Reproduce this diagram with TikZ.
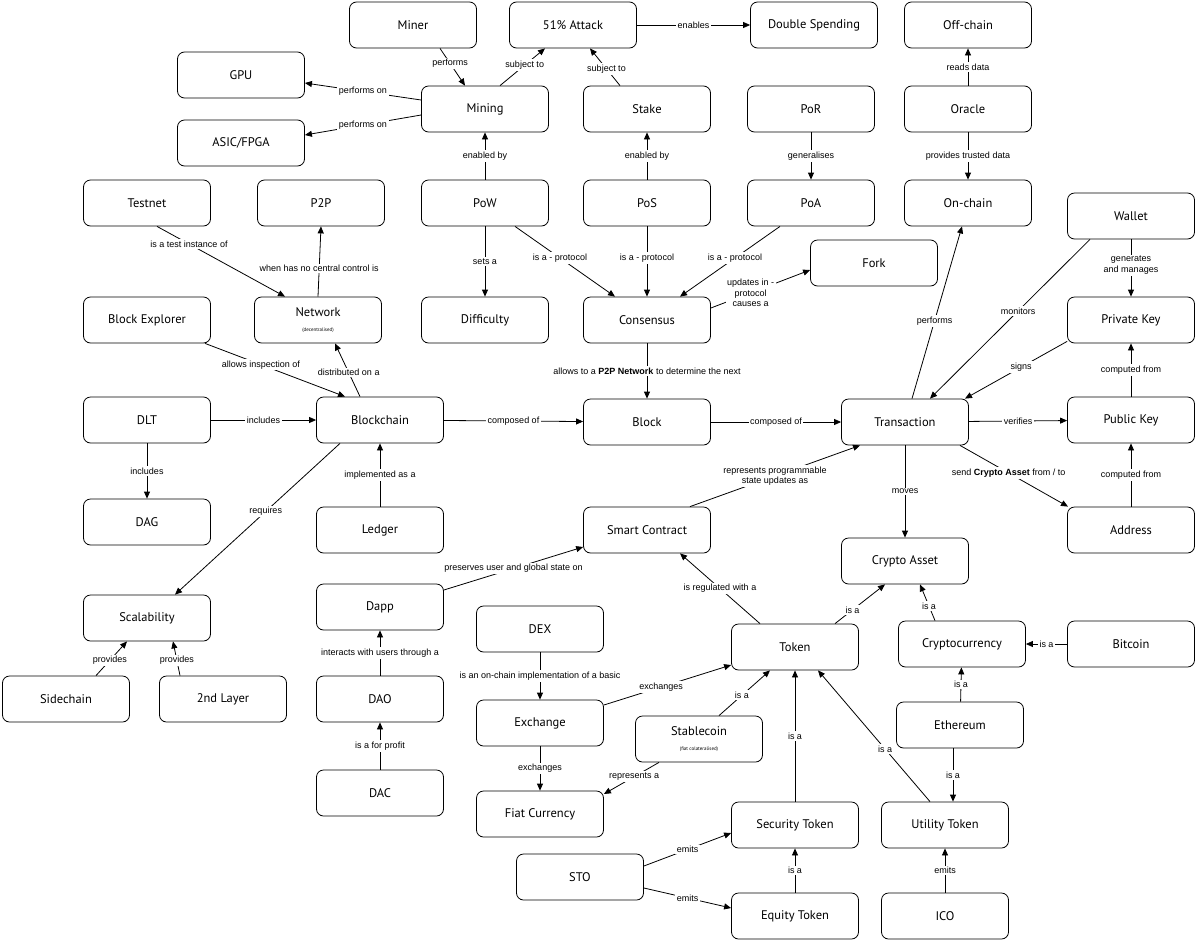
\documentclass[tikz,border=0pt]{standalone}
\usepackage{fontspec}
\setmainfont{Liberation Sans}
\newfontfamily\nodefont{PT Sans}
\usetikzlibrary{arrows.meta}
\begin{document}
\begin{tikzpicture}[x=1pt,y=-1pt,
 box/.style={draw,line width=0.8pt,rounded corners=7pt,minimum width=127pt,minimum height=46pt,font=\nodefont\fontsize{12.5}{14}\selectfont,align=center,inner sep=1pt},
 ar/.style={-{Triangle[length=7pt,width=6pt]},line width=0.8pt},
 lb/.style={fill=white,font=\fontsize{9}{10.5}\selectfont,align=center,inner sep=1.5pt}]
\useasboundingbox (0,0) rectangle (1200,943);
\node[box] (miner) at (413,25) {Miner};
\node[box] (attack) at (573,25) {51\% Attack};
\node[box] (double) at (814,25) {Double Spending};
\node[box] (offchain) at (968,25) {Off-chain};
\node[box] (gpu) at (241,75) {GPU};
\node[box] (mining) at (485,109) {Mining};
\node[box] (stake) at (647,109) {Stake};
\node[box] (por) at (811,109) {PoR};
\node[box] (oracle) at (968,109) {Oracle};
\node[box] (asic) at (241,143) {ASIC/FPGA};
\node[box] (testnet) at (147,203) {Testnet};
\node[box] (p2p) at (321,203) {P2P};
\node[box] (pow) at (485,203) {PoW};
\node[box] (pos) at (647,203) {PoS};
\node[box] (poa) at (811,203) {PoA};
\node[box] (onchain) at (968,203) {On-chain};
\node[box] (wallet) at (1131,216) {Wallet};
\node[box] (fork) at (874,263) {Fork};
\node[box] (explorer) at (147,320) {Block Explorer};
\node[box] (network) at (318,320) {Network\\[1pt]{\fontsize{5}{6}\selectfont (decentralised)}};
\node[box] (difficulty) at (485,320) {Difficulty};
\node[box] (consensus) at (647,320) {Consensus};
\node[box] (privkey) at (1131,320) {Private Key};
\node[box] (dlt) at (147,420) {DLT};
\node[box] (blockchain) at (380,420) {Blockchain};
\node[box] (block) at (647,422) {Block};
\node[box] (tx) at (905,422) {Transaction};
\node[box] (pubkey) at (1131,420) {Public Key};
\node[box] (dag) at (147,522) {DAG};
\node[box] (ledger) at (380,530) {Ledger};
\node[box] (smart) at (647,530) {Smart Contract};
\node[box] (address) at (1131,530) {Address};
\node[box] (asset) at (905,561) {Crypto Asset};
\node[box] (scal) at (147,618) {Scalability};
\node[box] (dapp) at (380,607) {Dapp};
\node[box] (dex) at (540,629) {DEX};
\node[box] (token) at (795,647) {Token};
\node[box] (crypto) at (962,644) {Cryptocurrency};
\node[box] (bitcoin) at (1131,644) {Bitcoin};
\node[box] (side) at (66,699) {Sidechain};
\node[box] (layer) at (223,699) {2nd Layer};
\node[box] (dao) at (380,699) {DAO};
\node[box] (exchange) at (540,723) {Exchange};
\node[box] (stable) at (699,739) {Stablecoin\\[1pt]{\fontsize{5}{6}\selectfont (fiat colateralised)}};
\node[box] (eth) at (960,725) {Ethereum};
\node[box] (dac) at (380,793) {DAC};
\node[box] (fiat) at (540,814) {Fiat Currency};
\node[box] (sec) at (795,825) {Security Token};
\node[box] (util) at (945,825) {Utility Token};
\node[box] (sto) at (580,877) {STO};
\node[box] (equity) at (795,916) {Equity Token};
\node[box] (ico) at (945,916) {ICO};

\draw[ar] ([xshift=27pt]miner.south) -- node[lb,pos=0.4]{performs} ([xshift=-20pt]mining.north);
\draw[ar] ([xshift=15pt]mining.north) -- node[lb,pos=0.55]{subject to} ([xshift=-28pt]attack.south);
\draw[ar] ([xshift=-27pt]stake.north) -- node[lb,pos=0.45]{subject to} ([xshift=17pt]attack.south);
\draw[ar] (attack) -- node[lb]{enables} (double);
\draw[ar] ([yshift=9pt]mining.west) -- node[lb]{performs on} ([yshift=-8pt]gpu.east);
\draw[ar] ([yshift=-6pt]mining.west) -- node[lb]{performs on} ([yshift=8pt]asic.east);
\draw[ar] (pow) -- node[lb]{enabled by} (mining);
\draw[ar] (pos) -- node[lb]{enabled by} (stake);
\draw[ar] (por) -- node[lb]{generalises} (poa);
\draw[ar] (oracle) -- node[lb]{reads data} (offchain);
\draw[ar] (oracle) -- node[lb]{provides trusted data} (onchain);
\draw[ar] ([xshift=10pt]testnet.south) -- node[lb,pos=0.25]{is a test instance of} ([xshift=-33pt]network.north);
\draw[ar] (network.north) -- node[lb,pos=0.4]{when has no central control is} (p2p.south);
\draw[ar] (pow) -- node[lb]{sets a} (difficulty);
\draw[ar] ([xshift=30pt]pow.south) -- node[lb,pos=0.45]{is a - protocol} ([xshift=-32pt]consensus.north);
\draw[ar] (pos) -- node[lb,pos=0.45]{is a - protocol} (consensus);
\draw[ar] ([xshift=-31pt]poa.south) -- node[lb,pos=0.45]{is a - protocol} ([xshift=33pt]consensus.north);
\draw[ar] ([yshift=12pt]consensus.east) -- node[lb,pos=0.4]{updates in -\\protocol\\causes a} ([yshift=-7pt]fork.west);
\draw[ar] ([xshift=58pt]explorer.south) -- node[lb,pos=0.4]{allows inspection of} ([xshift=-35pt]blockchain.north);
\draw[ar] ([xshift=-20pt]blockchain.north) -- node[lb,pos=0.45]{distributed on a} ([xshift=17pt]network.south);
\draw[ar] (consensus) -- node[lb,pos=0.5]{allows to a \textbf{P2P Network} to determine the next} (block);
\draw[ar] (dlt) -- node[lb]{includes} (blockchain);
\draw[ar] (blockchain) -- node[lb]{composed of} (block);
\draw[ar] (block) -- node[lb]{composed of} (tx);
\draw[ar] ([xshift=7pt]tx.north) -- node[lb,pos=0.45]{performs} ([xshift=-6pt]onchain.south);
\draw[ar] (tx) -- node[lb]{verifies} (pubkey);
\draw[ar] ([xshift=-41pt]wallet.south) -- node[lb,pos=0.45]{monitors} ([xshift=25pt]tx.north);
\draw[ar] (wallet) -- node[lb,pos=0.45]{generates\\and manages} (privkey);
\draw[ar] ([yshift=2pt]privkey.south west) -- node[lb,pos=0.45]{signs} ([xshift=60pt]tx.north);
\draw[ar] (pubkey) -- node[lb]{computed from} (privkey);
\draw[ar] (address) -- node[lb]{computed from} (pubkey);
\draw[ar] ([xshift=55pt]tx.south) -- node[lb,pos=0.45]{send \textbf{Crypto Asset} from / to} ([xshift=-63pt]address.north);
\draw[ar] (tx) -- node[lb]{moves} (asset);
\draw[ar] (dlt) -- node[lb]{includes} (dag);
\draw[ar] (ledger) -- node[lb]{implemented as a} (blockchain);
\draw[ar] ([xshift=-40pt]blockchain.south) -- node[lb,pos=0.45]{requires} ([xshift=28pt]scal.north);
\draw[ar] ([xshift=43pt]smart.north) -- node[lb,pos=0.5]{represents programmable\\state updates as} ([xshift=-45pt]tx.south);
\draw[ar] ([yshift=17pt]dapp.east) -- node[lb,pos=0.5]{preserves user and global state on} ([yshift=-17pt]smart.west);
\draw[ar] ([xshift=-35pt]token.north) -- node[lb,pos=0.5]{is regulated with a} ([xshift=33pt]smart.south);
\draw[ar] ([xshift=40pt]token.north) -- node[lb,pos=0.35]{is a} ([xshift=-20pt]asset.south);
\draw[ar] ([xshift=-27pt]crypto.north) -- node[lb,pos=0.4]{is a} ([xshift=15pt]asset.south);
\draw[ar] (bitcoin) -- node[lb]{is a} (crypto);
\draw[ar] (eth) -- node[lb]{is a} (crypto);
\draw[ar] ([xshift=30pt]side.north) -- node[lb,pos=0.45]{provides} ([xshift=-20pt]scal.south);
\draw[ar] ([xshift=-43pt]layer.north) -- node[lb,pos=0.45]{provides} ([xshift=26pt]scal.south);
\draw[ar] (dao) -- node[lb]{interacts with users through a} (dapp);
\draw[ar] (dac) -- node[lb]{is a for profit} (dao);
\draw[ar] (dex) -- node[lb]{is an on-chain implementation of a basic} (exchange);
\draw[ar] ([yshift=18pt]exchange.east) -- node[lb,pos=0.45]{exchanges} ([yshift=-18pt]token.west);
\draw[ar] (exchange) -- node[lb]{exchanges} (fiat);
\draw[ar] ([xshift=20pt]stable.north) -- node[lb,pos=0.45]{is a} ([xshift=-25pt]token.south);
\draw[ar] ([xshift=-40pt]stable.south) -- node[lb,pos=0.45]{represents a} ([yshift=20pt]fiat.east);
\draw[ar] (sec) -- node[lb]{is a} (token);
\draw[ar] ([xshift=-15pt]util.north) -- node[lb,pos=0.4]{is a} ([xshift=23pt]token.south);
\draw[ar] ([xshift=-7pt]eth.south) -- node[lb]{is a} ([xshift=8pt]util.north);
\draw[ar] ([yshift=11pt]sto.east) -- node[lb]{emits} ([yshift=-8pt]sec.west);
\draw[ar] ([yshift=-11pt]sto.east) -- node[lb]{emits} ([yshift=8pt]equity.west);
\draw[ar] (equity) -- node[lb]{is a} (sec);
\draw[ar] (ico) -- node[lb]{emits} (util);
\end{tikzpicture}
\end{document}
